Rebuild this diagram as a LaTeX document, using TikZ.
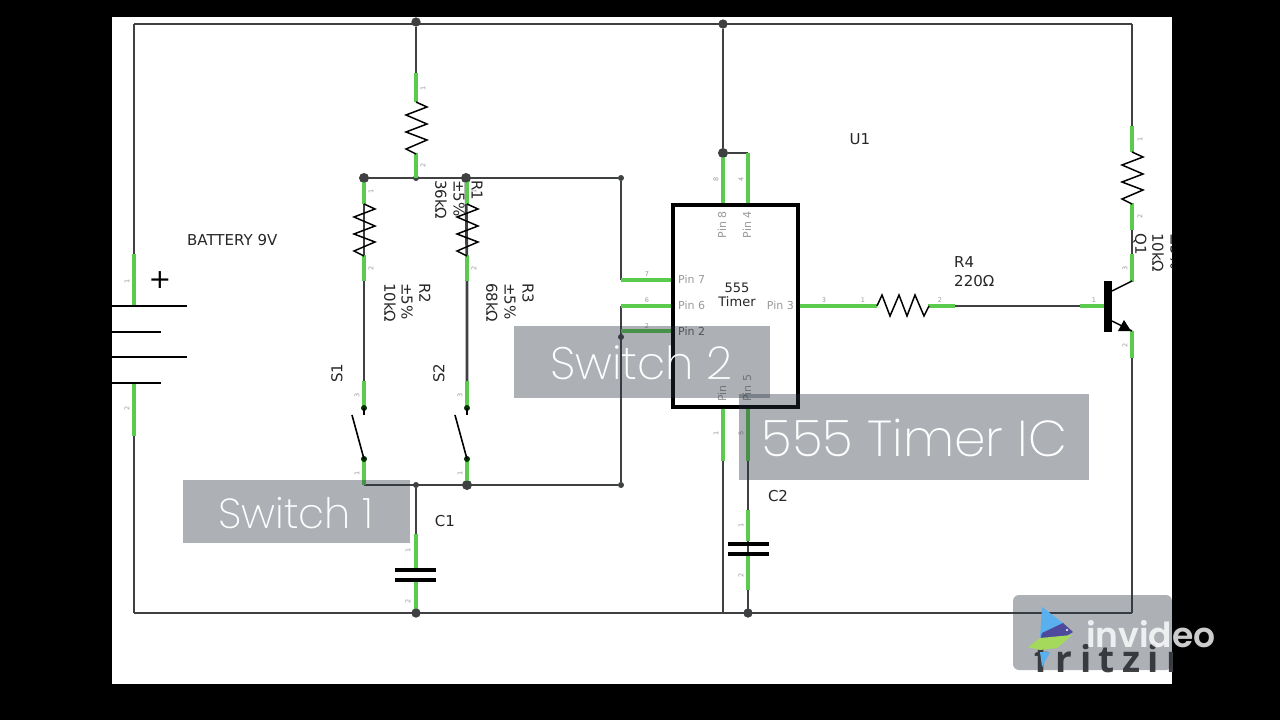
\documentclass[tikz,border=0pt]{standalone}
\usepackage{fontspec}
\setmainfont{DejaVu Sans}
\newfontfamily\ovfont{Poppins ExtraLight}
\newfontfamily\logofont{Poppins SemiBold}
\newfontfamily\fritzfont[LetterSpace=20]{Open Sans}
\definecolor{wirec}{HTML}{3E4042}
\definecolor{leadc}{HTML}{5BCB4E}
\definecolor{pinc}{HTML}{9A9A9A}
\definecolor{boxc}{HTML}{2A3340}
\definecolor{fishblue}{HTML}{5AB0EE}
\definecolor{fishpurple}{HTML}{4D4A9E}
\definecolor{fishgreen}{HTML}{A5D95B}
\tikzset{
  wire/.style={draw=wirec,line width=2.8pt},
  lead/.style={draw=leadc,line width=3.2pt},
  zig/.style={draw=black,line width=1.5pt,line join=miter},
  plate/.style={draw=black,line width=2.2pt},
  capplate/.style={draw=black,line width=4.5pt},
  bigdot/.style={circle,fill=wirec,inner sep=0pt,minimum size=10pt},
  smalldot/.style={circle,fill=wirec,inner sep=0pt,minimum size=6pt},
  lab/.style={text=black!85,font=\fontsize{15}{17}\selectfont,inner sep=0pt},
  rlab/.style={lab,rotate=-90,anchor=west},
  pinlab/.style={text=pinc,font=\fontsize{11}{14}\selectfont,inner sep=0pt},
  pinno/.style={text=pinc,font=\fontsize{6.5}{8}\selectfont,inner sep=0pt},
  overlay box/.style={fill=boxc,fill opacity=.38,draw=none,inner sep=0pt},
  ovlab/.style={text=white,inner sep=0pt},
  resv/.pic={\draw[zig] (0,0)--(11,5)--(-10,13)--(11,22)--(-10,30)--(11,38)--(-10,47)--(0,52);},
  resh/.pic={\draw[zig] (0,0)--(5,-11)--(13,10)--(22,-11)--(30,10)--(38,-11)--(47,10)--(52,0);}
}
\begin{document}
\begin{tikzpicture}[x=1pt,y=-1pt]
\useasboundingbox (0,0) rectangle (1280,720);
\fill[black] (0,0) rectangle (1280,720);
\fill[white] (112,17) rectangle (1172,684);
% junctions
\node[bigdot,minimum size=9pt] (jTopR) at (416,22) {};
\node[bigdot,minimum size=9pt] (jTopU) at (723,24) {};
\node[bigdot] (jR2) at (364,178) {};
\node[bigdot] (jR3) at (466,178) {};
\node[smalldot] (jR1) at (416,178) {};
\node[smalldot] (jRight) at (621,178) {};
\node[bigdot] (jVcc) at (723,153) {};
\node[smalldot] (jP2) at (621,337) {};
\node[smalldot] (jLow) at (621,485) {};
\node[bigdot] (jS2) at (467,485) {};
\node[smalldot] (jC1) at (416,485) {};
\node[bigdot,minimum size=9pt] (jBotC1) at (416,613) {};
\node[bigdot,minimum size=9pt] (jBotC2) at (748,613) {};
\coordinate (tl) at (134,24); \coordinate (tr) at (1132,24);
\coordinate (bl) at (134,613); \coordinate (br) at (1132,613);
% rails
\draw[wire] (tl) -- (tr);
\draw[wire] (bl) -- (br);
\draw[wire] (tl) -- (134,254); \draw[wire] (134,436) -- (bl);
\draw[wire] (tr) -- (1132,126); \draw[wire] (1132,230) -- (1132,254);
\draw[wire] (1132,358) -- (br);
% R1 network
\draw[wire] (jTopR) -- (416,73);
\draw[wire,line width=2.2pt] (jR2) -- (jRight);
\draw[wire,line width=2.2pt] (jRight) -- (621,280);
\draw[wire] (621,306) -- (jLow);
\draw[wire] (jR2) -- (364,281) (364,281) -- (364,381);
\draw[wire] (jR3) -- (467,281) (467,281) -- (467,381);
\draw[wire,line width=2.2pt] (364,485) -- (jLow);
\draw[wire] (jC1) -- (416,534);
\draw[wire] (jTopU) -- (jVcc);
\draw[wire,line width=2.2pt] (jVcc) -- (748,153);
\draw[wire] (723,461) -- (723,613);
\draw[wire] (748,461) -- (jBotC2);
\draw[wire] (955,306) -- (1080,306);
% leads
\draw[lead] (134,254) -- (134,306); \draw[lead] (134,383) -- (134,436);
\draw[lead] (416,73) -- (416,102); \draw[lead] (416,153) -- (416,178);
\draw[lead] (364,178) -- (364,204); \draw[lead] (364,255) -- (364,281);
\draw[lead] (467,178) -- (467,204); \draw[lead] (467,255) -- (467,281);
\draw[lead] (364,381) -- (364,408); \draw[lead] (364,460) -- (364,485);
\draw[lead] (467,381) -- (467,408); \draw[lead] (467,460) -- (467,485);
\draw[lead] (416,534) -- (416,570); \draw[lead] (416,580) -- (416,613);
\draw[lead] (748,510) -- (748,541);
\draw[lead] (748,556) -- (748,590);
\draw[lead] (621,280) -- (673,280);
\draw[lead] (621,306) -- (673,306);
\draw[lead] (621,331) -- (673,331);
\draw[lead] (723,153) -- (723,205); \draw[lead] (748,153) -- (748,205);
\draw[lead] (723,407) -- (723,461); \draw[lead] (748,407) -- (748,461);
\draw[lead] (798,306) -- (877,306); \draw[lead] (928,306) -- (955,306);
\draw[lead] (1080,306) -- (1106,306);
\draw[lead] (1132,126) -- (1132,152); \draw[lead] (1132,203) -- (1132,230);
\draw[lead] (1132,254) -- (1132,282); \draw[lead] (1132,331) -- (1132,358);
% re-draw junctions on top
\foreach \n in {jR2,jR3,jVcc,jS2,jBotC1,jBotC2,jTopR,jTopU}{\fill[wirec] (\n) circle (4.5pt);}
% resistors
\pic at (416,102) {resv}; \pic at (364,204) {resv}; \pic at (467,204) {resv};
\pic at (1132,152) {resv}; \pic at (877,306) {resh};
% battery
\draw[plate] (112,306) -- (187,306); \draw[plate] (112,332) -- (161,332);
\draw[plate] (112,357) -- (187,357); \draw[plate] (112,383) -- (161,383);
\node[inner sep=0pt,font=\fontsize{27}{27}\selectfont,text=black] (plus) at (160,280) {+};
% switches
\foreach \x in {364,467}{
  \fill[black!80!green] (\x,408) circle (3pt); \fill[black!80!green] (\x,459) circle (3pt);
  \draw[draw=black,line width=1.6pt] (\x,408) -- (\x,415);
  \draw[draw=black,line width=1.6pt] (\x-12,415) -- (\x,459);
}
% capacitors
\draw[capplate] (395,570) -- (436,570); \draw[capplate] (395,580) -- (436,580);
\draw[capplate] (728,544) -- (769,544); \draw[capplate] (728,554) -- (769,554);
\draw[wire] (748,590) -- (748,613);
% IC
\node[draw=black,line width=3.5pt,fill=none,minimum width=125pt,minimum height=202pt,inner sep=0pt] (ic) at (735.5,306) {};
\node[lab,font=\fontsize{13}{15}\selectfont,align=center] (t555) at (737,295) {555\\[-1pt]Timer};
\node[pinlab,anchor=west] (p7) at (678,279) {Pin 7};
\node[pinlab,anchor=west] (p6) at (678,305) {Pin 6};
\node[pinlab,anchor=west,text=black!60] (p2) at (678,331) {Pin 2};
\node[pinlab,anchor=east] (p3) at (794,305) {Pin 3};
\node[pinlab,rotate=90,anchor=east] (p8) at (722,211) {Pin 8};
\node[pinlab,rotate=90,anchor=east] (p4) at (747,211) {Pin 4};
\node[pinlab,rotate=90,anchor=west] (p1) at (722,402) {Pin};
\node[pinlab,rotate=90,anchor=west] (p5) at (747,402) {Pin 5};
% transistor
\fill[black] (1104,281) rectangle (1112,332);
\draw[draw=black,line width=1.5pt] (1112,291) -- (1132,281);
\draw[draw=black,line width=1.5pt] (1112,321) -- (1132,331);
\fill[black] (1131,331) -- (1118,331) -- (1124,320) -- cycle;
% pin numbers
\foreach \t/\x/\y/\r in {1/127/281/90,2/127/408/90,1/423/88/90,2/423/165/90,1/371/191/90,2/371/268/90,1/474/191/90,2/474/268/90,
 3/357/395/90,1/357/473/90,3/460/395/90,1/460/473/90,1/408/550/90,2/408/601/90,1/741/525/90,2/741/575/90,
 8/716/179/90,4/741/179/90,1/716/433/90,5/741/433/90,1/1140/139/90,2/1140/216/90,3/1125/268/90,2/1125/345/90}{
  \node[pinno,rotate=\r] at (\x,\y) {\t};
}
\foreach \t/\x/\y in {7/647/274,6/647/300,2/647/326,3/824/300,1/863/300,2/940/300,1/1094/300}{
  \node[pinno] at (\x,\y) {\t};
}
% labels
\node[lab,anchor=west] (bat) at (187,240) {BATTERY 9V};
\node[lab] (u1) at (860,139) {U1};
\node[lab,anchor=west] (r4) at (954,262) {R4};
\node[lab,anchor=west] (r4v) at (954,281) {220Ω};
\node[lab] (c1) at (445,521) {C1};
\node[lab] (c2) at (778,496) {C2};
\node[lab,rotate=90] (s1) at (337,373) {S1};
\node[lab,rotate=90] (s2) at (439,373) {S2};
\node[rlab] (r1a) at (477,180) {R1};
\node[rlab] (r1b) at (459,180) {±5\%};
\node[rlab] (r1c) at (441,180) {36kΩ};
\node[rlab] (r2a) at (425,283) {R2};
\node[rlab] (r2b) at (407,283) {±5\%};
\node[rlab] (r2c) at (390,283) {10kΩ};
\node[rlab] (r3a) at (528,283) {R3};
\node[rlab] (r3b) at (510,283) {±5\%};
\node[rlab] (r3c) at (492,283) {68kΩ};
\begin{scope}
\clip (112,17) rectangle (1172,684);
\node[rlab] (q1) at (1140,233) {Q1};
\node[rlab] (r5c) at (1158,233) {10kΩ};
\node[rlab] (r5b) at (1176,233) {±5\%};
\node[anchor=base west,inner sep=0pt,text=black!75,font=\fritzfont\bfseries\fontsize{37}{37}\selectfont] (fz) at (1034,672) {fritzing};
\end{scope}
% overlays
\fill[overlay box] (514,326) rectangle (770,398);
\fill[overlay box] (739,394) rectangle (1089,480);
\fill[overlay box] (183,480) rectangle (410,543);
\fill[overlay box,rounded corners=6pt] (1013,595) rectangle (1172,670);
\node[ovlab,font=\ovfont\fontsize{45.5}{45}\selectfont] (o2) at (641.5,363) {Switch 2};
\node[ovlab,font=\ovfont\fontsize{50.5}{50}\selectfont] (o3) at (914.5,438) {555 Timer IC};
\node[ovlab,font=\ovfont\fontsize{42}{42}\selectfont] (o1) at (296,513) {Switch 1};
% logo
\fill[fishblue] (1042,607) -- (1063,623) -- (1040,637) -- cycle;
\fill[fishpurple] (1042,633) -- (1063,623) -- (1073,632) -- (1063,638) -- (1040,640) -- cycle;
\fill[fishgreen] (1028,647) -- (1040,638) -- (1072,635) -- (1057,648) -- (1040,650) -- cycle;
\fill[fishblue] (1040,652) -- (1050,652) -- (1042,667) -- cycle;
\fill[white] (1067,630) circle (1.2pt);
\node[anchor=west,inner sep=0pt,text=white,text opacity=.8,font=\logofont\fontsize{34.5}{34}\selectfont] (iv) at (1086,634) {invideo};
\end{tikzpicture}
\end{document}
